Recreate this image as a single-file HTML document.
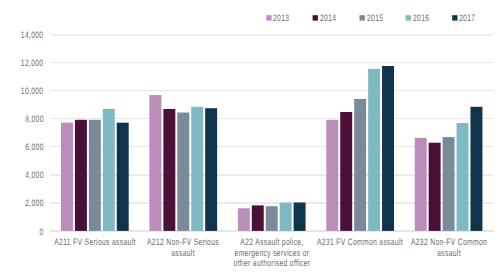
<!DOCTYPE html>
<html><head><meta charset="utf-8"><style>
html,body{margin:0;padding:0;background:#fff;width:500px;height:279px;overflow:hidden;position:relative}
.t{position:absolute;font-family:"Liberation Sans",sans-serif;font-size:9.4px;color:#6a6a6a;white-space:nowrap;line-height:11px;letter-spacing:0.46px;text-rendering:geometricPrecision}
.yl{right:456.7px;text-align:right;transform:scaleX(0.7200);transform-origin:right center}
.lg{top:11.9px;transform:scaleX(0.7200);transform-origin:left center}
.cl{top:237.3px;width:120px;text-align:center;transform:scaleX(0.7200);transform-origin:center center;line-height:10.3px}
</style></head><body>
<svg width="500" height="279" style="position:absolute;left:0;top:0" xmlns="http://www.w3.org/2000/svg"><rect x="50.5" y="34" width="442.5" height="1" fill="#efefef"/><rect x="50.5" y="35" width="442.5" height="1" fill="#efefef"/><rect x="50.5" y="62" width="442.5" height="1" fill="#e7e7e7"/><rect x="50.5" y="90" width="442.5" height="1" fill="#e7e7e7"/><rect x="50.5" y="118" width="442.5" height="1" fill="#e7e7e7"/><rect x="50.5" y="146" width="442.5" height="1" fill="#e7e7e7"/><rect x="50.5" y="174" width="442.5" height="1" fill="#ebebeb"/><rect x="50.5" y="175" width="442.5" height="1" fill="#ebebeb"/><rect x="50.5" y="202" width="442.5" height="1" fill="#ebebeb"/><rect x="50.5" y="203" width="442.5" height="1" fill="#ebebeb"/><rect x="50.5" y="230" width="442.5" height="1" fill="#e6e6e6"/><rect x="50.5" y="231" width="442.5" height="1" fill="#e6e6e6"/><rect x="61.00" y="122.60" width="11.95" height="108.30" fill="#BB8DBB"/><rect x="74.94" y="119.80" width="11.95" height="111.10" fill="#4B1038"/><rect x="88.88" y="119.80" width="11.95" height="111.10" fill="#7B8A9B"/><rect x="102.82" y="109.00" width="11.95" height="121.90" fill="#7FBAC2"/><rect x="116.76" y="122.70" width="11.95" height="108.20" fill="#10344C"/><rect x="149.43" y="95.10" width="11.95" height="135.80" fill="#BB8DBB"/><rect x="163.37" y="109.00" width="11.95" height="121.90" fill="#4B1038"/><rect x="177.31" y="112.50" width="11.95" height="118.40" fill="#7B8A9B"/><rect x="191.25" y="106.80" width="11.95" height="124.10" fill="#7FBAC2"/><rect x="205.19" y="108.20" width="11.95" height="122.70" fill="#10344C"/><rect x="237.86" y="208.30" width="11.95" height="22.60" fill="#BB8DBB"/><rect x="251.80" y="205.40" width="11.95" height="25.50" fill="#4B1038"/><rect x="265.74" y="206.20" width="11.95" height="24.70" fill="#7B8A9B"/><rect x="279.68" y="202.70" width="11.95" height="28.20" fill="#7FBAC2"/><rect x="293.62" y="202.50" width="11.95" height="28.40" fill="#10344C"/><rect x="326.29" y="119.80" width="11.95" height="111.10" fill="#BB8DBB"/><rect x="340.23" y="112.00" width="11.95" height="118.90" fill="#4B1038"/><rect x="354.17" y="99.00" width="11.95" height="131.90" fill="#7B8A9B"/><rect x="368.11" y="68.90" width="11.95" height="162.00" fill="#7FBAC2"/><rect x="382.05" y="66.00" width="11.95" height="164.90" fill="#10344C"/><rect x="414.72" y="137.80" width="11.95" height="93.10" fill="#BB8DBB"/><rect x="428.66" y="142.70" width="11.95" height="88.20" fill="#4B1038"/><rect x="442.60" y="137.10" width="11.95" height="93.80" fill="#7B8A9B"/><rect x="456.54" y="123.10" width="11.95" height="107.80" fill="#7FBAC2"/><rect x="470.48" y="106.80" width="11.95" height="124.10" fill="#10344C"/><rect x="266.3" y="15.2" width="5.3" height="5.4" fill="#BB8DBB"/><rect x="312.6" y="15.2" width="5.3" height="5.4" fill="#4B1038"/><rect x="359.5" y="15.2" width="5.3" height="5.4" fill="#7B8A9B"/><rect x="405.6" y="15.2" width="5.3" height="5.4" fill="#7FBAC2"/><rect x="452.2" y="15.2" width="5.3" height="5.4" fill="#10344C"/></svg>
<div class="t yl" style="top:225.60px">0</div><div class="t yl" style="top:197.47px">2,000</div><div class="t yl" style="top:169.34px">4,000</div><div class="t yl" style="top:141.21px">6,000</div><div class="t yl" style="top:113.08px">8,000</div><div class="t yl" style="top:84.95px">10,000</div><div class="t yl" style="top:56.82px">12,000</div><div class="t yl" style="top:28.69px">14,000</div><div class="t lg" style="left:273.30px">2013</div><div class="t lg" style="left:319.60px">2014</div><div class="t lg" style="left:366.50px">2015</div><div class="t lg" style="left:412.60px">2016</div><div class="t lg" style="left:459.20px">2017</div><div class="t cl" style="left:34.85px">A211 FV Serious assault</div><div class="t cl" style="left:123.28px">A212 Non-FV Serious<br>assault</div><div class="t cl" style="left:211.72px">A22 Assault police,<br>emergency services or<br>other authorised officer</div><div class="t cl" style="left:300.15px">A231 FV Common assault</div><div class="t cl" style="left:388.58px">A232 Non-FV Common<br>assault</div>
</body></html>
